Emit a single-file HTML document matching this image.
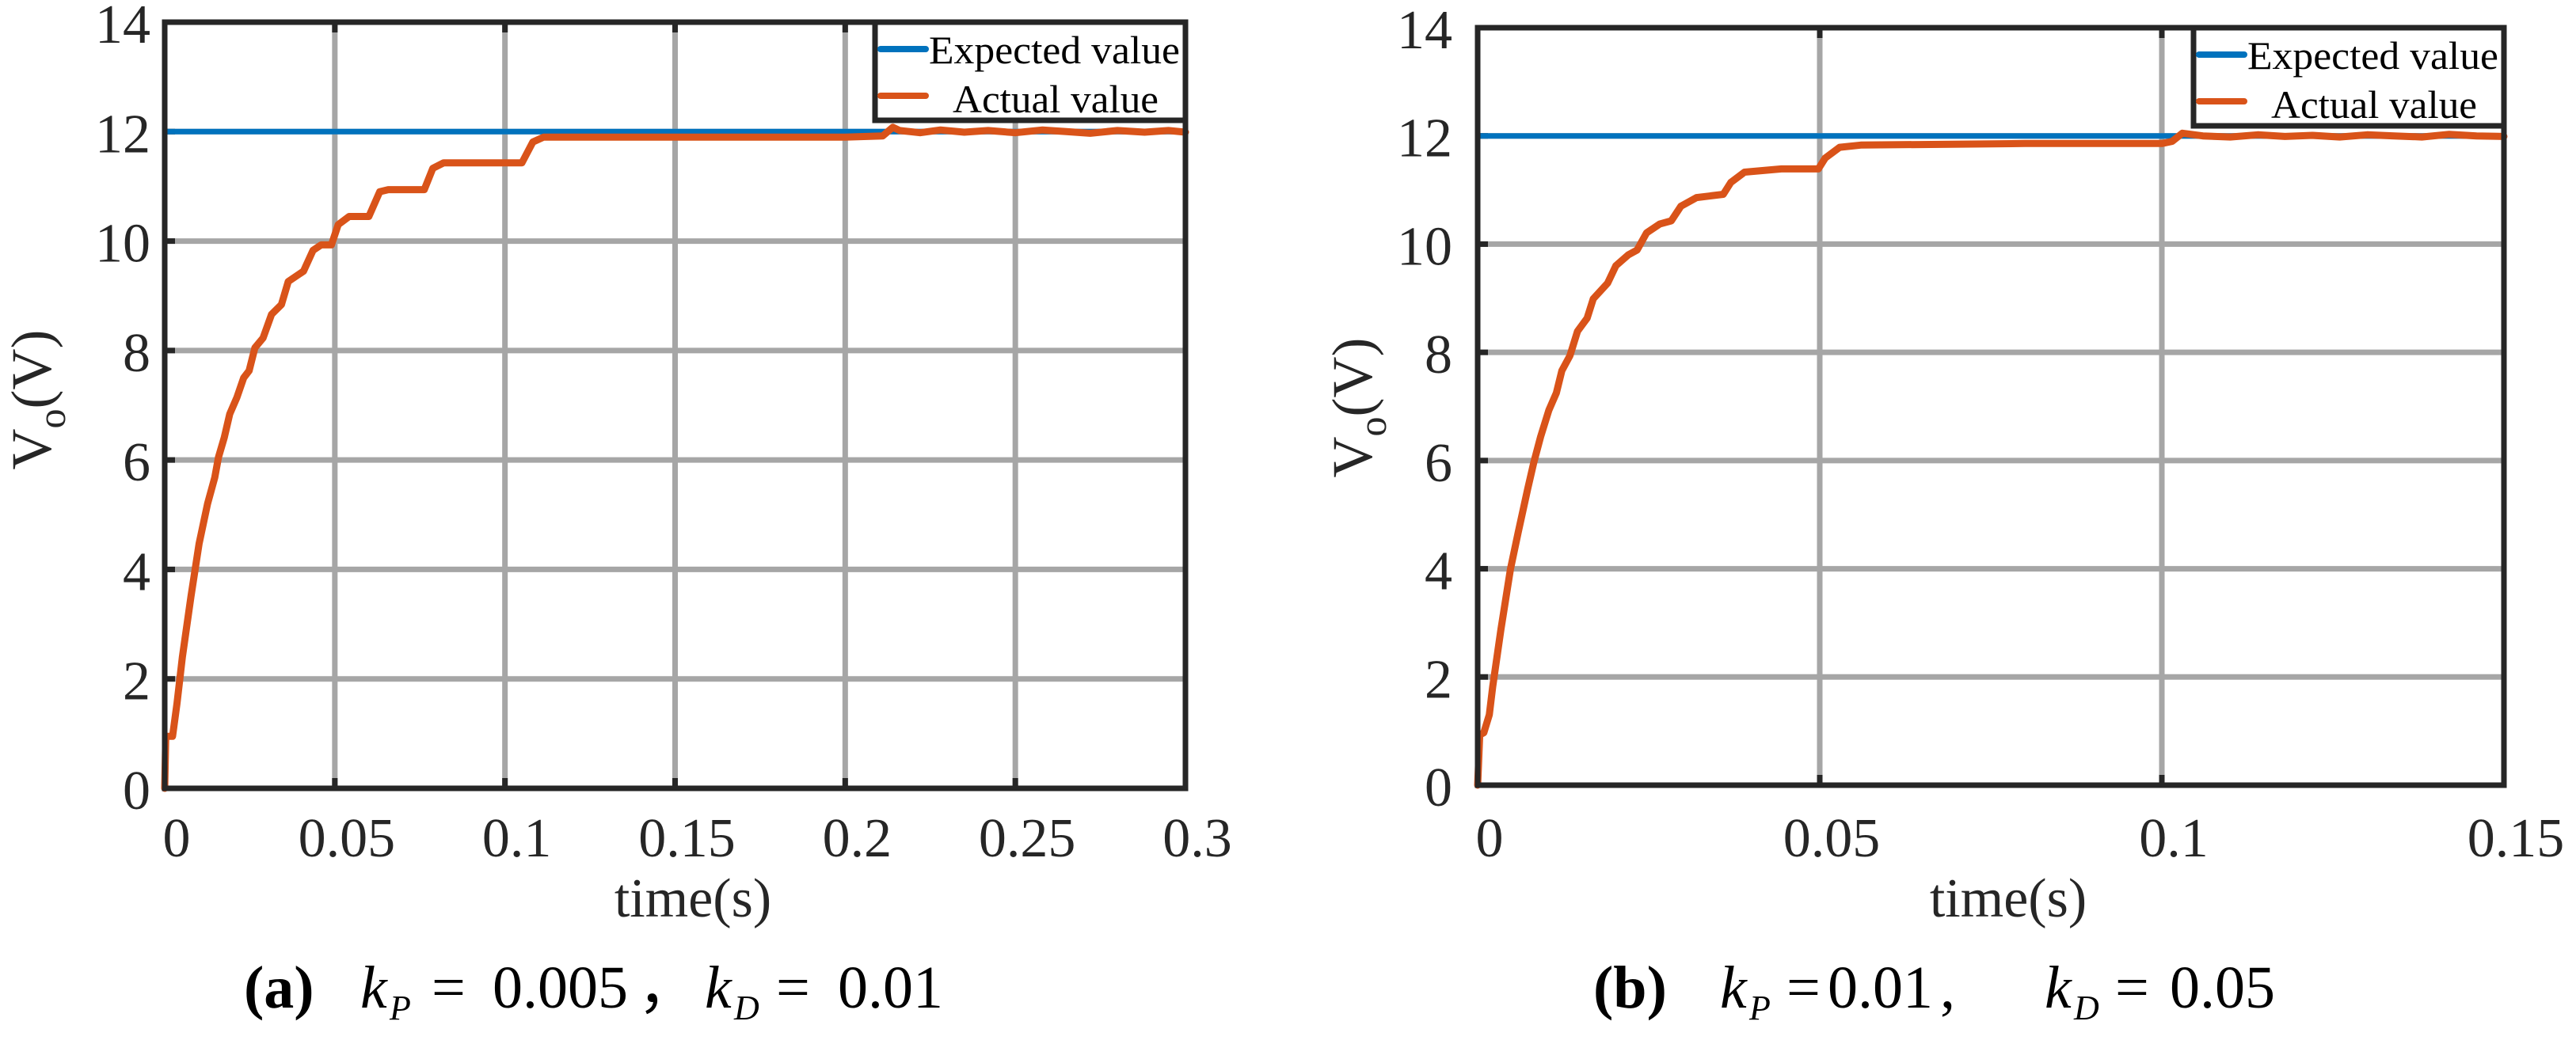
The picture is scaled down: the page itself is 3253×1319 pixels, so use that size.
<!DOCTYPE html>
<html><head><meta charset="utf-8"><style>
html,body{margin:0;padding:0;background:#fff;}
svg, svg text{font-family:"Liberation Serif","Times New Roman",serif;}
</style></head><body>
<svg id="fig" width="3253" height="1314" viewBox="0 0 3253 1314" xmlns="http://www.w3.org/2000/svg" font-family="Liberation Serif, serif">
<g id="cap" font-family="Liberation Serif, serif">
<g font-size="76" fill="#000">
<text x="308" y="1273" font-weight="bold">(a)</text>
<text x="455" y="1273" font-style="italic">k</text><text x="492" y="1288" font-size="44" font-style="italic">P</text>
<text x="545" y="1273">=</text><text x="622" y="1273">0.005</text><text x="805" y="1273">，</text>
<text x="890" y="1273" font-style="italic">k</text><text x="927" y="1288" font-size="44" font-style="italic">D</text>
<text x="980" y="1273">=</text><text x="1058" y="1273">0.01</text>
</g>
<g font-size="76" fill="#000">
<text x="2012" y="1273" font-weight="bold">(b)</text>
<text x="2172" y="1273" font-style="italic">k</text><text x="2209" y="1288" font-size="44" font-style="italic">P</text>
<text x="2256" y="1273">=</text><text x="2308" y="1273">0.01</text><text x="2450" y="1273">,</text>
<text x="2582" y="1273" font-style="italic">k</text><text x="2619" y="1288" font-size="44" font-style="italic">D</text>
<text x="2671" y="1273">=</text><text x="2740" y="1273">0.05</text>
</g>
</g>
</svg>
<script>
// ---- data: plot (a) ----
const aTime = [0,0.0003,0.0023,0.0036,0.0052,0.0077,0.0101,0.0126,0.0147,0.0158,0.0175,0.0191,0.0212,0.0232,0.0248,0.0265,0.0289,0.0314,0.0343,0.0363,0.0408,0.0436,0.046,0.049,0.051,0.0542,0.06,0.0632,0.0657,0.0763,0.0788,0.082,0.105,0.1082,0.1114,0.15,0.2,0.211,0.214,0.216,0.222,0.228,0.235,0.242,0.25,0.258,0.265,0.272,0.28,0.288,0.295,0.3];
const aVolt = [0,0.95,0.95,1.55,2.4,3.5,4.47,5.2,5.68,6.05,6.41,6.84,7.14,7.5,7.63,8.05,8.23,8.66,8.84,9.26,9.45,9.83,9.93,9.93,10.3,10.45,10.45,10.9,10.94,10.94,11.33,11.43,11.43,11.81,11.9,11.9,11.9,11.92,12.08,12.02,11.98,12.03,11.99,12.02,11.98,12.03,12.0,11.97,12.02,11.99,12.02,11.99];
const aXTicks = [0,0.05,0.1,0.15,0.2,0.25,0.3];
const aXLabels = ["0","0.05","0.1","0.15","0.2","0.25","0.3"];
// ---- data: plot (b) ----
const bTime = [0,0.0003,0.0009,0.0017,0.0022,0.0034,0.0048,0.0059,0.0073,0.0082,0.0092,0.0104,0.0115,0.0123,0.0135,0.0146,0.016,0.0169,0.019,0.0202,0.022,0.0233,0.0247,0.0266,0.0283,0.0297,0.032,0.0359,0.037,0.039,0.0444,0.0498,0.0508,0.0529,0.056,0.08,0.1,0.1015,0.103,0.106,0.11,0.114,0.118,0.122,0.126,0.13,0.134,0.138,0.142,0.146,0.15];
const bVolt = [0,0.93,0.97,1.3,1.82,2.88,4.0,4.66,5.47,5.96,6.44,6.93,7.25,7.66,7.94,8.39,8.63,8.99,9.28,9.6,9.8,9.89,10.21,10.37,10.43,10.7,10.86,10.92,11.14,11.33,11.39,11.39,11.59,11.79,11.83,11.86,11.86,11.9,12.05,12.0,11.98,12.02,11.99,12.01,11.98,12.02,12.0,11.98,12.03,12.0,11.99];
const bXTicks = [0,0.05,0.1,0.15];
const bXLabels = ["0","0.05","0.1","0.15"];
const yTicks = [0,2,4,6,8,10,12,14];
const yLabels = ["0","2","4","6","8","10","12","14"];
const expectedValue = 12;

const NS = "http://www.w3.org/2000/svg";
const svg = document.getElementById('fig');
const FF = 'Liberation Serif, Times New Roman, serif';
function mk(tag, attrs, parent){
  const e = document.createElementNS(NS, tag);
  for (const k in attrs) e.setAttribute(k, attrs[k]);
  if (tag === 'text') e.setAttribute('font-family', FF);
  (parent||svg).appendChild(e);
  return e;
}
function plot(cfg){
  const g = mk('g', {});
  
  
  const X = t => cfg.x0 + (t - cfg.tmin) / (cfg.tmax - cfg.tmin) * (cfg.x1 - cfg.x0);
  const Y = v => cfg.y0 - v / 14 * (cfg.y0 - cfg.y1);
  cfg.xticks.forEach((t,i) => {
    if (i === 0 || i === cfg.xticks.length-1) return;
    const l = mk('line', {x1:X(t), x2:X(t), y1:cfg.y1, y2:cfg.y0, stroke:'#a6a6a6', 'stroke-width':7}, g);
    
    
    mk('line', {x1:X(t), x2:X(t), y1:cfg.y1, y2:cfg.y1+13, stroke:'#262626', 'stroke-width':7}, g);
    mk('line', {x1:X(t), x2:X(t), y1:cfg.y0, y2:cfg.y0-13, stroke:'#262626', 'stroke-width':7}, g);
  });
  yTicks.forEach((v,i) => {
    if (i === 0 || i === yTicks.length-1) return;
    const l = mk('line', {x1:cfg.x0, x2:cfg.x1, y1:Y(v), y2:Y(v), stroke:'#a6a6a6', 'stroke-width':7}, g);
    
    
    mk('line', {x1:cfg.x0, x2:cfg.x0+13, y1:Y(v), y2:Y(v), stroke:'#262626', 'stroke-width':7}, g);
  });
  const ex = mk('line', {x1:cfg.x0, x2:cfg.x1, y1:Y(expectedValue), y2:Y(expectedValue), stroke:'#0072BD', 'stroke-width':7, 'stroke-linecap':'round'}, g);
  
  
  let d = '';
  cfg.time.forEach((t,i) => { d += (i?'L':'M') + X(t).toFixed(1) + ' ' + Y(cfg.volt[i]).toFixed(1) + ' '; });
  const ac = mk('path', {d:d, fill:'none', stroke:'#D95319', 'stroke-width':9, 'stroke-linejoin':'round', 'stroke-linecap':'round'}, g);
  
  
  const box = mk('rect', {x:cfg.x0, y:cfg.y1, width:cfg.x1-cfg.x0, height:cfg.y0-cfg.y1, fill:'none', stroke:'#262626', 'stroke-width':7}, g);
  
  
  cfg.xticks.forEach((t,i) => {
    const tx = mk('text', {x:X(t)+15, y:1082, 'font-size':70, 'text-anchor':'middle', fill:'#262626'}, g);
    tx.textContent = cfg.xlabels[i];
    
    
  });
  yTicks.forEach((v,i) => {
    const tx = mk('text', {x:cfg.ylabX, y:Y(v)+26, 'font-size':70, 'text-anchor':'end', fill:'#262626'}, g);
    tx.textContent = yLabels[i];
    
    
  });
  const xt = mk('text', {x:cfg.xtX, y:1158, 'font-size':70, 'text-anchor':'middle', fill:'#262626'}, g);
  xt.textContent = 'time(s)';
  
  
  const yt = mk('text', {x:0, y:0, 'font-size':72, 'text-anchor':'middle', fill:'#262626', transform:'translate('+(cfg.ytX+24)+','+cfg.ytY+') rotate(-90)'}, g);
  yt.innerHTML = 'V<tspan font-size="50" dy="18">o</tspan><tspan dy="-18">(V)</tspan>';
  
  
  const lg = mk('g', {}, g);
  
  
  const lx = cfg.x1 - 392;
  mk('rect', {x:lx, y:cfg.y1, width:392, height:152-28, fill:'#fff', stroke:'#262626', 'stroke-width':7}, lg);
  const e1 = mk('line', {x1:lx+7, x2:lx+64, y1:cfg.y1+34, y2:cfg.y1+34, stroke:'#0072BD', 'stroke-width':8, 'stroke-linecap':'round'}, lg);
  
  
  const e2 = mk('line', {x1:lx+7, x2:lx+64, y1:cfg.y1+93, y2:cfg.y1+93, stroke:'#D95319', 'stroke-width':8, 'stroke-linecap':'round'}, lg);
  
  
  const t1 = mk('text', {x:lx+68, y:cfg.y1+52, 'font-size':50, textLength:317, lengthAdjust:'spacingAndGlyphs', fill:'#000'}, lg);
  t1.textContent = 'Expected value';
  
  
  const t2 = mk('text', {x:lx+98, y:cfg.y1+114, 'font-size':50, textLength:260, lengthAdjust:'spacingAndGlyphs', fill:'#000'}, lg);
  t2.textContent = 'Actual value';
  
  
}
plot({name:'plot-a', x0:208, x1:1497, y0:996, y1:28, tmin:0, tmax:0.3, time:aTime, volt:aVolt, xticks:aXTicks, xlabels:aXLabels, ylabX:190, xtX:875, ytX:40, ytY:505});
plot({name:'plot-b', x0:1866, x1:3162, y0:992, y1:35, tmin:0, tmax:0.15, time:bTime, volt:bVolt, xticks:bXTicks, xlabels:bXLabels, ylabX:1834, xtX:2536, ytX:1708, ytY:515});
svg.appendChild(document.getElementById('cap'));
</script>
</body></html>
